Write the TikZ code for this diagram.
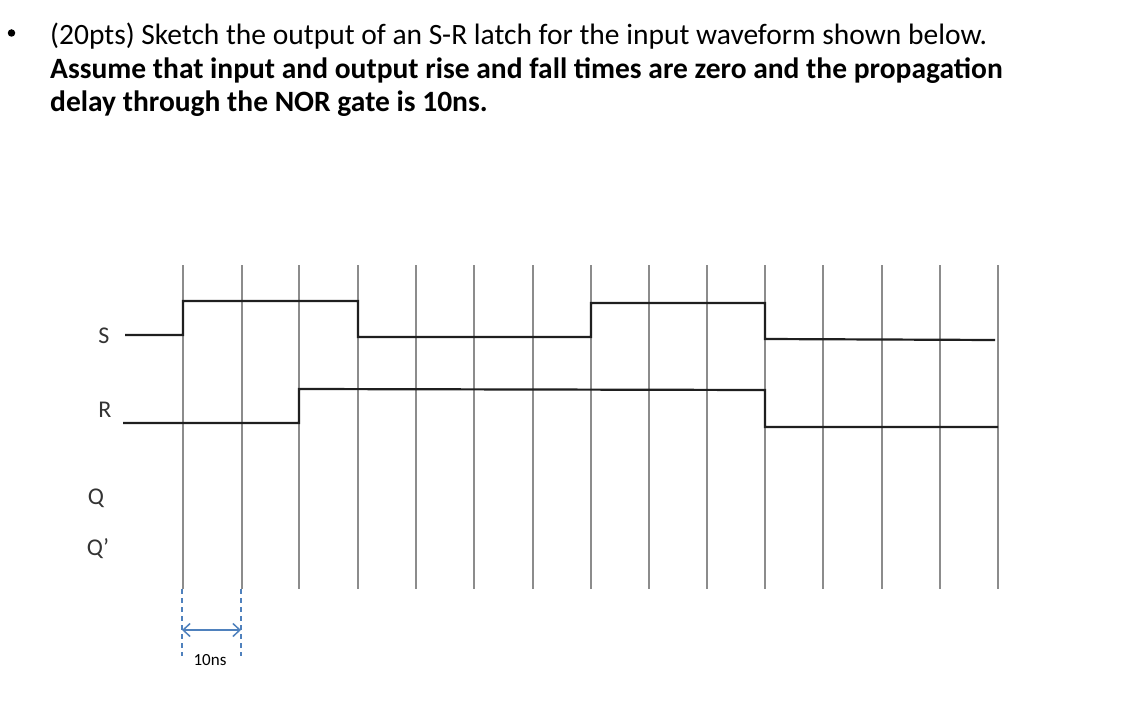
\documentclass[tikz,border=0pt]{standalone}
\usepackage{fontspec}
\setmainfont{Carlito}
\usetikzlibrary{arrows.meta}
\definecolor{dimblue}{RGB}{79,129,189}
\begin{document}
\begin{tikzpicture}[x=1pt,y=-1pt,
  gridline/.style={draw=black!45, line width=1.4pt},
  wave/.style={draw=black!88, line width=2.2pt, line join=miter},
  siglabel/.style={font=\fontsize{24}{26}\selectfont, text=black!80, inner sep=0pt},
  title/.style={anchor=base west, inner sep=0pt, font=\fontsize{29.5}{34}\selectfont},
  dimline/.style={draw=dimblue, line width=1.1pt, dash pattern=on 5pt off 4pt},
  dimarrow/.style={draw=dimblue, line width=1.5pt, {Straight Barb[length=7pt,width=13pt]}-{Straight Barb[length=7pt,width=13pt]}}]
\useasboundingbox (0,0) rectangle (1123,703);
\node[circle, fill=black, inner sep=0pt, minimum size=7.5pt] (bullet) at (11.5,33) {};
\node[title] (l1) at (50,45) {(20pts) Sketch the output of an S-R latch for the input waveform shown below.};
\node[title, font=\fontsize{29.5}{34}\selectfont\bfseries] (l2) at (50,79) {Assume that input and output rise and fall times are zero and the propagation};
\node[title, font=\fontsize{29.5}{34}\selectfont\bfseries] (l3) at (50,112) {delay through the NOR gate is 10ns.};
\foreach \x in {183,242,299,358,416,474,533,591,649,707,765,823,882,940,998}
  \draw[gridline] (\x,265) -- (\x,589);
\draw[wave] (125,335) -- (183,335) -- (183,301) -- (358,301) -- (358,337) -- (591,337) -- (591,303) -- (765,303) -- (765,339) -- (995,340);
\draw[wave] (123,423) -- (299,423) -- (299,389) -- (765,390) -- (765,427) -- (998,427);
\node[siglabel] (S) at (104,336) {S};
\node[siglabel] (R) at (105,410) {R};
\node[siglabel] (Q) at (96,498) {Q};
\node[siglabel] (Qp) at (98,549) {Q’};
\coordinate (d1t) at (182,589);
\coordinate (d1b) at (182,656);
\coordinate (d2t) at (241,589);
\coordinate (d2b) at (241,656);
\draw[dimline] (d1t) -- (d1b);
\draw[dimline] (d2t) -- (d2b);
\coordinate (a1) at (182,630);
\coordinate (a2) at (241,630);
\draw[dimarrow] (a1) -- (a2);
\node[inner sep=0pt, font=\fontsize{17}{19}\selectfont] (dim) at (210,660) {10ns};
\end{tikzpicture}
\end{document}
